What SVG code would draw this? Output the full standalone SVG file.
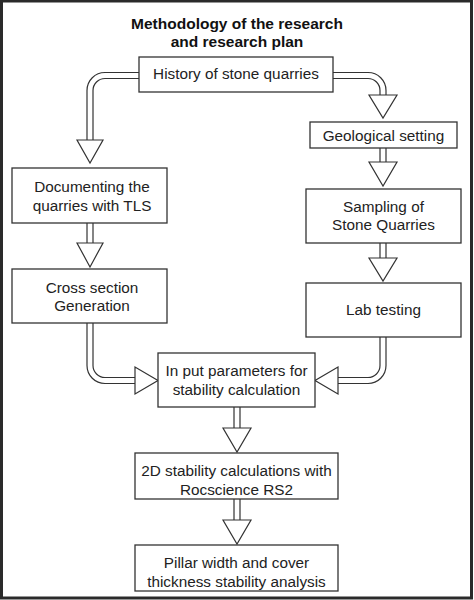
<svg xmlns="http://www.w3.org/2000/svg" width="474" height="600" viewBox="0 0 474 600">
<style>
.box{fill:#fff;stroke:#333;stroke-width:1.3}
.t{font-family:"Liberation Sans",Arial,sans-serif;font-size:15.3px;fill:#222;text-anchor:middle}
.title{font-family:"Liberation Sans",Arial,sans-serif;font-size:15.5px;font-weight:bold;fill:#111;text-anchor:middle}
.dout{fill:none;stroke:#333;stroke-width:7.2}
.din{fill:none;stroke:#fff;stroke-width:4.8}
.head{fill:#fff;stroke:#333;stroke-width:1.2;stroke-linejoin:miter}
</style>
<defs>
<path id="c1" d="M139,75.5 H105 A15,15 0 0 0 90,90.5 V140"/>
<path id="c2" d="M333,75.5 H368 A15,15 0 0 1 383,90.5 V95"/>
<path id="c3" d="M383,148 V162"/>
<path id="c4" d="M383,243 V258"/>
<path id="c5" d="M90,223 V243"/>
<path id="c6" d="M90,323 V365.5 A15,15 0 0 0 105,380.5 H135"/>
<path id="c7" d="M383,337 V365.5 A15,15 0 0 1 368,380.5 H338"/>
<path id="c8" d="M237,407 V428"/>
<path id="c9" d="M237,499 V520"/>
</defs>
<rect x="1.5" y="1" width="470" height="597" fill="#fff" stroke="#2a2a2a" stroke-width="3"/>
<text class="title" x="237" y="29">Methodology of the research</text>
<text class="title" x="237" y="47">and research plan</text>
<g id="connectors">
<use href="#c1" class="dout"/><use href="#c1" class="din"/>
<use href="#c2" class="dout"/><use href="#c2" class="din"/>
<use href="#c3" class="dout"/><use href="#c3" class="din"/>
<use href="#c4" class="dout"/><use href="#c4" class="din"/>
<use href="#c5" class="dout"/><use href="#c5" class="din"/>
<use href="#c6" class="dout"/><use href="#c6" class="din"/>
<use href="#c7" class="dout"/><use href="#c7" class="din"/>
<use href="#c8" class="dout"/><use href="#c8" class="din"/>
<use href="#c9" class="dout"/><use href="#c9" class="din"/>
<polygon class="head" points="77,140 103,140 90,163"/>
<polygon class="head" points="369,95 397,95 383,118"/>
<polygon class="head" points="369,162 397,162 383,186"/>
<polygon class="head" points="369,258 397,258 383,281"/>
<polygon class="head" points="77,243 103,243 90,267"/>
<polygon class="head" points="135,367 135,394 158,380.5"/>
<polygon class="head" points="338,367 338,394 315,380.5"/>
<polygon class="head" points="223,428 251,428 237,452"/>
<polygon class="head" points="223,520 251,520 237,544"/>
</g>
<g id="history"><rect class="box" x="139" y="57" width="194" height="35"/><text class="t" x="236" y="79">History of stone quarries</text></g>
<g id="geological"><rect class="box" x="310" y="122" width="147" height="26"/><text class="t" x="383.5" y="140.5">Geological setting</text></g>
<g id="sampling"><rect class="box" x="306" y="189" width="155" height="54"/><text class="t" x="383.5" y="211.5">Sampling of</text><text class="t" x="383.5" y="229.5">Stone Quarries</text></g>
<g id="lab"><rect class="box" x="306" y="283" width="155" height="54"/><text class="t" x="383.5" y="314.5">Lab testing</text></g>
<g id="documenting"><rect class="box" x="12" y="168" width="155" height="55"/><text class="t" x="92" y="191.5">Documenting the</text><text class="t" x="92" y="210.5">quarries with TLS</text></g>
<g id="crosssection"><rect class="box" x="12" y="269" width="155" height="54"/><text class="t" x="92" y="292.5">Cross section</text><text class="t" x="92" y="310.5">Generation</text></g>
<g id="input"><rect class="box" x="158" y="353" width="157" height="54"/><text class="t" x="236.5" y="375.5">In put parameters for</text><text class="t" x="236.5" y="394.5">stability calculation</text></g>
<g id="calc2d"><rect class="box" x="135" y="453" width="203" height="46"/><text class="t" x="236.5" y="475.5">2D stability calculations with</text><text class="t" x="236.5" y="494.5">Rocscience RS2</text></g>
<g id="pillar"><rect class="box" x="135" y="545" width="203" height="46"/><text class="t" x="236.5" y="567.5">Pillar width and cover</text><text class="t" x="236.5" y="586.5">thickness stability analysis</text></g>
</svg>
